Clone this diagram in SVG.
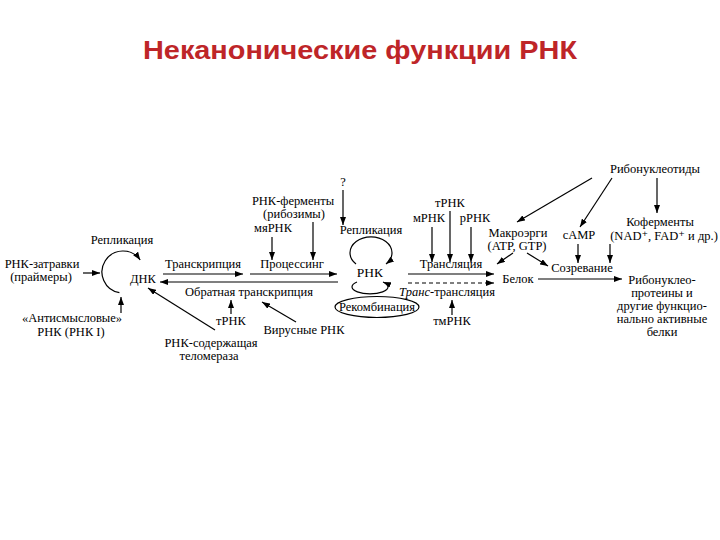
<svg xmlns="http://www.w3.org/2000/svg" width="720" height="540" viewBox="0 0 720 540">
<defs>
<marker id="ah" markerUnits="userSpaceOnUse" markerWidth="8" markerHeight="6" refX="8" refY="3" orient="auto">
<path d="M0,0 L8,3 L0,6 z" fill="#000"/>
</marker>
<style>
.t{font-family:"Liberation Serif","DejaVu Serif",serif;font-size:12.5px;fill:#000;text-anchor:middle}
.title{font-family:"Liberation Sans",Arial,sans-serif;font-weight:bold;font-size:25px;fill:#BE2528;text-anchor:middle}
.l{stroke:#000;stroke-width:1.2;fill:none}
.a{stroke:#000;stroke-width:1.2;fill:none;marker-end:url(#ah)}
.d{stroke:#000;stroke-width:1.2;fill:none;stroke-dasharray:4,3;marker-end:url(#ah)}
</style>
</defs>
<rect width="720" height="540" fill="#fff"/>
<text class="title" x="360" y="59" textLength="434" lengthAdjust="spacingAndGlyphs">Неканонические функции РНК</text>

<g id="connectors">
<path class="a" d="M119.4,292.7 A21,21 0 1 1 140.2,260"/>
<path class="a" d="M83,273 L100,273"/>
<path class="a" d="M121,313 L121,297"/>
<path class="a" d="M215,330 L148,288"/>
<path class="a" d="M163,274 L243,274"/>
<path class="a" d="M338,282 L160,282"/>
<path class="a" d="M250,274 L337,274"/>
<path class="a" d="M231,314 L231,300"/>
<path class="a" d="M296,322 L262,302"/>
<path class="a" d="M272,237 L272,260"/>
<path class="a" d="M313,222 L313,260"/>
<path class="a" d="M343,190 L343,225"/>
<path class="a" d="M356,264 A21,16 0 1 1 386,264"/>
<path class="a" d="M357,282 A18,7 0 1 0 383,282"/>
<path class="a" d="M408,274 L494,274"/>
<path class="d" d="M408,283 L494,283"/>
<path class="a" d="M432,227 L432,262"/>
<path class="a" d="M450,211 L450,262"/>
<path class="a" d="M471,227 L471,262"/>
<path class="a" d="M452,315 L452,300"/>
<path class="a" d="M513,253 L497,264"/>
<path class="a" d="M527,253 L548,266"/>
<path class="a" d="M592,178 L517,222"/>
<path class="a" d="M612,178 L580,227"/>
<path class="a" d="M657,178 L657,213"/>
<path class="a" d="M578,244 L578,263"/>
<path class="a" d="M610,244 L610,263"/>
<path class="a" d="M538,279 L622,279"/>
</g>

<g id="n-dna"><text class="t" x="143" y="283">ДНК</text></g>
<g id="n-replication-dna"><text class="t" x="122" y="244">Репликация</text></g>
<g id="n-primers"><text class="t" x="42" y="268">РНК-затравки</text><text class="t" x="41" y="281">(праймеры)</text></g>
<g id="n-antisense"><text class="t" x="72" y="322">«Антисмысловые»</text><text class="t" x="71" y="336">РНК (РНК I)</text></g>
<g id="n-telomerase"><text class="t" x="211" y="347">РНК-содержащая</text><text class="t" x="209" y="360">теломераза</text></g>
<g id="n-transcription"><text class="t" x="203" y="268">Транскрипция</text></g>
<g id="n-reverse"><text class="t" x="249" y="296">Обратная транскрипция</text></g>
<g id="n-trna1"><text class="t" x="231" y="325">тРНК</text></g>
<g id="n-viral"><text class="t" x="304" y="334">Вирусные РНК</text></g>
<g id="n-processing"><text class="t" x="292" y="268">Процессинг</text></g>
<g id="n-ribozymes"><text class="t" x="293" y="205">РНК-ферменты</text><text class="t" x="294" y="218">(рибозимы)</text></g>
<g id="n-snrna"><text class="t" x="273" y="232">мяРНК</text></g>
<g id="n-q"><text class="t" x="343" y="186">?</text></g>
<g id="n-replication-rna"><text class="t" x="371" y="234">Репликация</text></g>
<g id="n-rna"><text class="t" x="370" y="277" style="font-size:13.5px">РНК</text></g>
<g id="n-recombination"><ellipse cx="377" cy="307" rx="42" ry="10.5" class="l"/><text class="t" x="377" y="311">Рекомбинация</text></g>
<g id="n-translation"><text class="t" x="451" y="268">Трансляция</text></g>
<g id="n-transtranslation"><text class="t" x="447" y="296"><tspan font-style="italic">Транс</tspan>-трансляция</text></g>
<g id="n-tmrna"><text class="t" x="452" y="325">тмРНК</text></g>
<g id="n-trna2"><text class="t" x="450" y="207">тРНК</text></g>
<g id="n-mrna"><text class="t" x="429" y="222">мРНК</text></g>
<g id="n-rrna"><text class="t" x="475" y="222">рРНК</text></g>
<g id="n-protein"><text class="t" x="518" y="283">Белок</text></g>
<g id="n-macroerg"><text class="t" x="518" y="237">Макроэрги</text><text class="t" x="517" y="250">(ATP, GTP)</text></g>
<g id="n-camp"><text class="t" x="579" y="239">cAMP</text></g>
<g id="n-coenzymes"><text class="t" x="660" y="226">Коферменты</text><text class="t" x="664" y="240">(NAD⁺, FAD⁺ и др.)</text></g>
<g id="n-ribonucleotides"><text class="t" x="655" y="173">Рибонуклеотиды</text></g>
<g id="n-maturation"><text class="t" x="582" y="272">Созревание</text></g>
<g id="n-rnp"><text class="t" x="662" y="284">Рибонуклео-</text><text class="t" x="662" y="297">протеины и</text><text class="t" x="662" y="310">другие функцио-</text><text class="t" x="662" y="323">нально активные</text><text class="t" x="662" y="336">белки</text></g>
</svg>
